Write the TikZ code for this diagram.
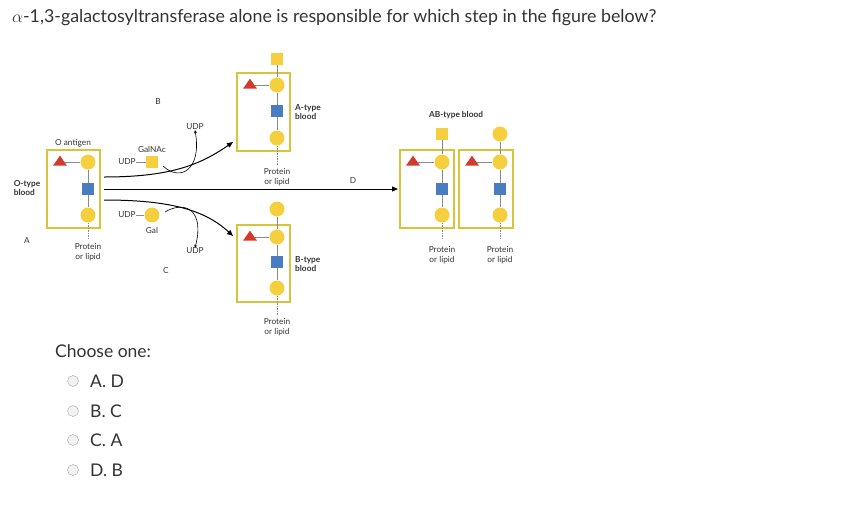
\documentclass[tikz,border=0pt]{standalone}
\usepackage{fontspec}
\setmainfont{Lato}
\usetikzlibrary{arrows.meta,shapes.geometric}
\definecolor{gy}{HTML}{F6CF3F}
\definecolor{bx}{HTML}{D8C43C}
\definecolor{bl}{HTML}{4A7CC2}
\definecolor{rd}{HTML}{D33A2E}
\definecolor{ln}{HTML}{8A8A8A}
\definecolor{tx}{HTML}{333333}
\tikzset{
 gc/.style={circle,fill=gy,minimum size=15pt,inner sep=0},
 gsq/.style={rectangle,fill=gy,minimum size=12pt,inner sep=0},
 bsq/.style={rectangle,fill=bl,minimum size=12pt,inner sep=0},
 tri/.style={isosceles triangle,isosceles triangle apex angle=70,shape border rotate=90,fill=rd,minimum height=10pt,minimum width=14pt,inner sep=0},
 frame/.style={draw=bx,line width=1.2pt},
 bond/.style={draw=ln,line width=1pt},
 dbond/.style={draw=ln,line width=0.8pt,dash pattern=on 1.5pt off 1pt},
 lab/.style={font=\fontsize{8.3}{9.5}\selectfont,text=tx,align=center,inner sep=0},
 blab/.style={font=\fontsize{8.3}{9.5}\selectfont\bfseries,text=tx,align=left,inner sep=0,anchor=west},
 arr/.style={draw=black,line width=1pt,-{Triangle[length=6pt,width=5pt]}},
 sarr/.style={draw=black,line width=0.6pt,-{Stealth[length=3pt,width=3pt]}},
 q/.style={font=\fontsize{17.5}{20}\selectfont,text=tx,anchor=west,inner sep=0},
 radio/.style={circle,draw=gray!70,fill=gray!10,minimum size=11pt,inner sep=0}
}
\begin{document}
\begin{tikzpicture}[x=1pt,y=-1pt]
\useasboundingbox (0,0) rectangle (844,504);
\node[q,font=\fontsize{17.8}{20}\selectfont] (title) at (12,18) {$\alpha$-1,3-galactosyltransferase alone is responsible for which step in the figure below?};
% O antigen
\draw[frame] (47,150) rectangle (100,228);
\node[gc] (o1) at (88,162) {}; \node[bsq] (o2) at (88,189) {}; \node[gc] (o3) at (88,215) {};
\node[tri] (ot) at (60,162) {};
\coordinate (oe) at (88,240);
\draw[bond] (ot) -- (o1); \draw[bond] (o1) -- (o2); \draw[bond] (o2) -- (o3); \draw[dbond] (o3) -- (oe);
\node[lab] (ol) at (88,252) {Protein\\or lipid};
\node[lab] (oa) at (73,143) {O antigen};
\node[lab,font=\fontsize{8.3}{9.5}\selectfont\bfseries,align=left] (ob) at (27,188) {O-type\\blood};
\node[lab] (A) at (27,241) {A};
% A type
\draw[frame] (237,73) rectangle (290,151);
\node[gsq] (a0) at (277,59) {}; \node[gc] (a1) at (277,85) {}; \node[bsq] (a2) at (277,111) {}; \node[gc] (a3) at (277,138) {};
\node[tri] (at) at (250,85) {};
\coordinate (ae) at (277,165);
\draw[bond] (a0) -- (a1); \draw[bond] (at) -- (a1); \draw[bond] (a1) -- (a2); \draw[bond] (a2) -- (a3); \draw[dbond] (a3) -- (ae);
\node[lab] (al) at (277,177) {Protein\\or lipid};
\node[blab] (ab) at (295,112) {A-type\\blood};
% B type
\draw[frame] (237,225) rectangle (290,302);
\node[gc] (b0) at (277,209) {}; \node[gc] (b1) at (277,237) {}; \node[bsq] (b2) at (277,262) {}; \node[gc] (b3) at (277,288) {};
\node[tri] (bt) at (250,237) {};
\coordinate (be) at (277,315);
\draw[bond] (b0) -- (b1); \draw[bond] (bt) -- (b1); \draw[bond] (b1) -- (b2); \draw[bond] (b2) -- (b3); \draw[dbond] (b3) -- (be);
\node[lab] (bl) at (277,327) {Protein\\or lipid};
\node[blab] (bb) at (295,264) {B-type\\blood};
% AB type 1
\draw[frame] (400,150) rectangle (454,228);
\node[gsq] (c0) at (442,134) {}; \node[gc] (c1) at (442,162) {}; \node[bsq] (c2) at (442,189) {}; \node[gc] (c3) at (442,215) {};
\node[tri] (ct) at (413,162) {};
\coordinate (ce) at (442,240);
\draw[bond] (c0) -- (c1); \draw[bond] (ct) -- (c1); \draw[bond] (c1) -- (c2); \draw[bond] (c2) -- (c3); \draw[dbond] (c3) -- (ce);
\node[lab] (cl) at (442,255) {Protein\\or lipid};
% AB type 2
\draw[frame] (459,150) rectangle (513,228);
\node[gc] (d0) at (500,134) {}; \node[gc] (d1) at (500,162) {}; \node[bsq] (d2) at (500,189) {}; \node[gc] (d3) at (500,215) {};
\node[tri] (dt) at (472,162) {};
\coordinate (de) at (500,240);
\draw[bond] (d0) -- (d1); \draw[bond] (dt) -- (d1); \draw[bond] (d1) -- (d2); \draw[bond] (d2) -- (d3); \draw[dbond] (d3) -- (de);
\node[lab] (dl) at (500,255) {Protein\\or lipid};
\node[lab,font=\fontsize{8.3}{9.5}\selectfont\bfseries] (abl) at (456,115) {AB-type blood};
% arrows
\coordinate (s1) at (104,177); \coordinate (s2) at (104,189); \coordinate (s3) at (104,200);
\coordinate (t1) at (233,142); \coordinate (t2) at (398,189); \coordinate (t3) at (233,236);
\draw[arr] (s2) -- (t2);
\draw[arr] (s1) .. controls (170,177) and (200,165) .. (t1);
\draw[arr] (s3) .. controls (170,200) and (205,210) .. (t3);
\node[lab] (D) at (353,181) {D};
\node[lab] (B) at (158,102) {B};
\node[lab] (C) at (166,271) {C};
% GalNAc donor
\node[gsq] (gn) at (152,162) {};
\node[lab] (u1) at (127,162) {UDP};
\draw[bond] (u1.east) -- (gn);
\node[lab] (gnl) at (152,149) {GalNAc};
\node[lab] (u2) at (195,127) {UDP};
\draw[sarr] (163,166) .. controls (180,182) and (202,170) .. (u2.south);
% Gal donor
\node[gc] (ga) at (152,215) {};
\node[lab] (u3) at (127,215) {UDP};
\draw[bond] (u3.east) -- (ga);
\node[lab] (gal) at (152,230) {Gal};
\node[lab] (u4) at (195,251) {UDP};
\draw[sarr] (165,212) .. controls (185,200) and (205,210) .. (u4.north);
% question
\node[q] (ch) at (55,351) {Choose one:};
\node[radio] (r1) at (73,381) {}; \node[q] (o1t) at (90,381) {A. D};
\node[radio] (r2) at (73,411) {}; \node[q] (o2t) at (90,411) {B. C};
\node[radio] (r3) at (73,440) {}; \node[q] (o3t) at (90,440) {C. A};
\node[radio] (r4) at (73,470) {}; \node[q] (o4t) at (90,470) {D. B};
\end{tikzpicture}
\end{document}
